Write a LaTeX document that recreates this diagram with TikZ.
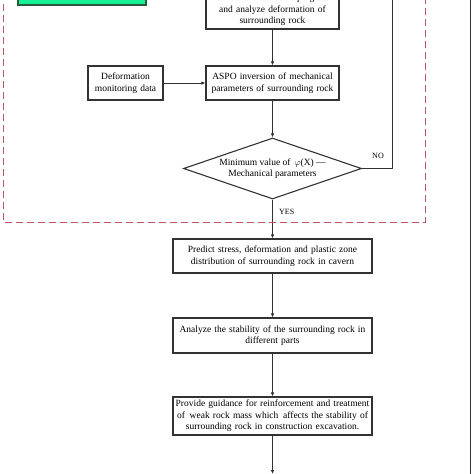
\documentclass[tikz,border=0pt]{standalone}
\usepackage{fontspec}
\setmainfont{Liberation Serif}
\usetikzlibrary{shapes.geometric,arrows.meta}
\definecolor{boxgreen}{RGB}{20,240,150}
\definecolor{greenedge}{RGB}{40,90,60}
\definecolor{dashred}{RGB}{190,85,95}
\definecolor{linegray}{RGB}{50,50,50}

\begin{document}
\begin{tikzpicture}[x=1pt,y=-1pt,
	font=\fontsize{9.5}{11.5}\selectfont,
	box/.style={draw=linegray,line width=1.1pt,align=center,inner sep=0pt},
	flow/.style={draw=linegray,line width=0.9pt,-{Latex[length=4pt,width=3.5pt]}},
	plain/.style={draw=linegray,line width=0.9pt},
	tag/.style={font=\fontsize{8}{9}\selectfont,inner sep=1pt}]
	\useasboundingbox (0,0) rectangle (474,474);
	\clip (0,0) rectangle (474,474);
	% boxes of the inversion loop
	\node[box,fill=boxgreen,draw=greenedge,minimum width=128pt,minimum height=30pt] (green) at (82,-10) {};
	\node[box,text width=130pt,minimum width=133pt,minimum height=38pt] (sim) at (272.5,10)
		{Simulate excavation progress\\and analyze deformation of\\surrounding rock};
	\node[box,text width=72pt,minimum width=75pt,minimum height=34pt] (deform) at (125.5,83)
		{Deformation\\monitoring data};
	\node[box,text width=130pt,minimum width=133pt,minimum height=34pt] (aspo) at (272.5,83)
		{ASPO inversion of mechanical\\parameters of surrounding rock};
	\node[box,shape=diamond,aspect=2.9,minimum width=178pt,minimum height=61pt] (dia) at (272.5,168.5)
		{Minimum value of\, $\varphi$(X) —\\Mechanical parameters};
	% boxes below the loop
	\node[box,text width=196pt,minimum width=199pt,minimum height=34pt] (predict) at (272.5,256)
		{Predict stress, deformation and plastic zone\\distribution of surrounding rock in cavern};
	\node[box,text width=196pt,minimum width=199pt,minimum height=35pt] (analyze) at (272.5,335.5)
		{Analyze the stability of the surrounding rock in\\different parts};
	\node[box,text width=196pt,minimum width=199pt,minimum height=38pt] (provide) at (272.5,416)
		{Provide guidance for reinforcement and treatment\\of\, weak rock mass which\, affects the stability of\\surrounding rock in construction excavation.};
	\coordinate (next) at (272.5,474);
	\coordinate (loop) at (392,-30);
	\coordinate (rtop) at (470,0);
	\coordinate (rbot) at (470,474);
	% connectors
	\draw[flow] (sim) -- (aspo);
	\draw[flow] (deform) -- (aspo);
	\draw[flow] (aspo) -- (dia);
	\draw[flow] (dia) -- (predict);
	\draw[flow] (predict) -- (analyze);
	\draw[flow] (analyze) -- (provide);
	\draw[flow] (provide) -- (next);
	\draw[plain] (dia.east) -- (dia.east -| loop) -- (loop);
	\draw[plain] (rtop) -- (rbot);
	\node[tag] (no) at (378,156) {NO};
	\node[tag,anchor=west] (yes) at (278,212) {YES};
	% dashed frame
	\draw[dashred,line width=1pt,dash pattern=on 7pt off 4pt] (3,-40) rectangle (425,222);
\end{tikzpicture}
\end{document}
